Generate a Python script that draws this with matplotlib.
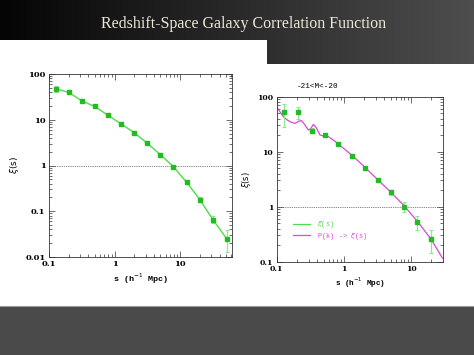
import numpy as np
import matplotlib
matplotlib.use('Agg')
import matplotlib.pyplot as plt
from matplotlib.patches import Rectangle
from matplotlib.colors import LinearSegmentedColormap
from matplotlib.ticker import LogLocator, NullFormatter

# ---------------- data ----------------
title = "Redshift-Space Galaxy Correlation Function"

# left panel: xi(s)
s_left = [0.126, 0.2, 0.316, 0.5, 0.79, 1.26, 2.0, 3.16, 5.0, 7.9, 12.6, 20.0, 31.6, 52.0]
xi_left = [47.7, 39.6, 26.0, 19.5, 12.6, 8.1, 5.2, 3.06, 1.73, 0.94, 0.43, 0.18, 0.066, 0.0245]
xi_left_lo = [41.0, 37.0, 24.5, 18.5, 12.0, 7.7, 4.95, 2.9, 1.64, 0.89, 0.40, 0.16, 0.056, 0.0129]
xi_left_hi = [55.0, 42.0, 27.5, 20.5, 13.2, 8.5, 5.45, 3.2, 1.82, 0.99, 0.47, 0.20, 0.078, 0.0385]

# right panel: xi(s) for -21<M<-20
s_right = [0.128, 0.21, 0.33, 0.53, 0.83, 1.31, 2.07, 3.2, 5.1, 7.95, 12.5, 20.0]
xi_right = [53.0, 52.0, 24.0, 20.0, 13.7, 8.4, 5.0, 3.0, 1.82, 1.0, 0.53, 0.26]
xi_right_lo = [28.0, 40.0, 21.5, 19.0, 13.0, 8.0, 4.8, 2.85, 1.63, 0.81, 0.37, 0.146]
xi_right_hi = [75.0, 66.0, 27.3, 21.0, 14.5, 8.8, 5.2, 3.15, 2.01, 1.2, 0.69, 0.37]

# right panel: P(k) -> xi(s) curve
s_pk = [0.1, 0.112, 0.126, 0.144, 0.167, 0.1875, 0.215, 0.236, 0.264, 0.296, 0.324,
        0.351, 0.385, 0.442, 0.495, 0.568, 0.698, 0.829, 1.31, 2.07, 3.23, 5.09,
        7.96, 12.6, 19.9, 29.6]
xi_pk = [65.8, 53.0, 43.0, 37.6, 34.1, 32.7, 36.1, 36.6, 30.5, 24.8, 26.6,
         31.4, 27.7, 20.1, 19.3, 19.3, 16.3, 13.8, 8.7, 5.19, 3.06, 1.80,
         1.03, 0.533, 0.258, 0.115]

left_yticks = [0.01, 0.1, 1, 10, 100]
left_ylabels = ['0.01', '0.1', '1', '10', '100']
left_xticks = [0.1, 1, 10]
left_xlabels = ['0.1', '1', '10']
right_yticks = [0.1, 1, 10, 100]
right_ylabels = ['0.1', '1', '10', '100']
right_xticks = [0.1, 1, 10]
right_xlabels = ['0.1', '1', '10']

GREEN = '#4ddc4d'
GREEN_ERR = '#8fe88f'
GREEN_PT = '#22bb22'
MAGENTA = '#d84ad8'

W, H = 474, 355
fig = plt.figure(figsize=(4.74, 3.55), dpi=100)

# ---------------- background ----------------
bg = fig.add_axes([0, 0, 1, 1])
bg.set_axis_off()
cmap = LinearSegmentedColormap.from_list('g', ['#050505', '#2a2a2a', '#4e4e4e'])
grad = np.linspace(0, 1, 256)[None, :]
bg.imshow(grad, aspect='auto', cmap=cmap, extent=[0, W, H, 0])
bg.set_xlim(0, W)
bg.set_ylim(H, 0)
bg.add_patch(Rectangle((0, 306), W, 49, color='#4a4a4a', lw=0))
bg.plot([0, W], [306, 306], color='#9a9a9a', lw=0.8)
bg.add_patch(Rectangle((0, 40), 267, 266, color='white', lw=0))
bg.add_patch(Rectangle((267, 64), 207, 242, color='white', lw=0))
bg.text(244, 24, title, ha='center', va='center', color='#ece8d6',
        fontsize=11.5, family='Liberation Serif')

MONO = 'Liberation Mono'


def style(ax, xlim, ylim, xt, xl, yt, yl, fs):
    ax.set_xscale('log')
    ax.set_yscale('log')
    ax.set_xlim(*xlim)
    ax.set_ylim(*ylim)
    ax.set_xticks(xt, labels=xl)
    ax.set_yticks(yt, labels=yl)
    ax.xaxis.set_minor_locator(LogLocator(base=10, subs=np.arange(2, 10)))
    ax.yaxis.set_minor_locator(LogLocator(base=10, subs=np.arange(2, 10)))
    ax.xaxis.set_minor_formatter(NullFormatter())
    ax.yaxis.set_minor_formatter(NullFormatter())
    ax.tick_params(which='both', direction='in', top=True, right=True,
                   width=0.5, color='#333333', labelsize=fs, pad=2.5)
    ax.tick_params(which='major', length=4)
    ax.tick_params(which='minor', length=2)
    for lab in ax.get_xticklabels() + ax.get_yticklabels():
        lab.set_family('DejaVu Serif')
        lab.set_fontweight('bold')
    for sp in ax.spines.values():
        sp.set_linewidth(0.6)
        sp.set_color('#333333')
    ax.axhline(1, color='#555555', lw=0.6, ls=(0, (1, 1.2)))


# ---------------- left panel ----------------
axL = fig.add_axes([49 / W, 1 - 257 / H, 183 / W, 183 / H])
style(axL, (0.1, 62), (0.01, 100), left_xticks, left_xlabels,
      left_yticks, left_ylabels, 6)
yl = np.array(xi_left)
errL = [yl - np.array(xi_left_lo), np.array(xi_left_hi) - yl]
axL.errorbar(s_left, xi_left, yerr=errL, fmt='none', ecolor=GREEN_ERR,
             elinewidth=0.9, capsize=1.5, capthick=0.8)
axL.plot(s_left, xi_left, color=GREEN, lw=1.0, marker='s', ms=2.2,
         mfc=GREEN_PT, mec=GREEN_PT)
axL.set_xlabel('s (h$^{-1}$ Mpc)', family=MONO, fontweight='bold',
               fontsize=6, labelpad=2)
axL.set_ylabel(r'$\xi$(s)', fontsize=6.5, labelpad=3)

# ---------------- right panel ----------------
axR = fig.add_axes([276.7 / W, 1 - 261.7 / H, 166 / W, 165 / H])
style(axR, (0.1, 29.7), (0.1, 100), right_xticks, right_xlabels,
      right_yticks, right_ylabels, 5.5)
yr = np.array(xi_right)
errR = [yr - np.array(xi_right_lo), np.array(xi_right_hi) - yr]
h_pk, = axR.plot(s_pk, xi_pk, color=MAGENTA, lw=0.9,
                 label='P(k) -> $\\xi$(s)', zorder=2)
axR.errorbar(s_right, xi_right, yerr=errR, fmt='none', ecolor=GREEN_ERR,
             elinewidth=0.9, capsize=1.5, capthick=0.8, zorder=3)
axR.plot(s_right, xi_right, ls='none', marker='s', ms=2.2,
         mfc=GREEN_PT, mec=GREEN_PT, zorder=4)
h_xi, = axR.plot([], [], color=GREEN, lw=0.9, label='$\\xi$(s)')
leg = axR.legend(handles=[h_xi, h_pk], loc='center left',
                 bbox_to_anchor=(0.098, 0.19), frameon=False,
                 borderpad=0, borderaxespad=0,
                 prop={'family': MONO, 'size': 5.0},
                 handlelength=2.5, handletextpad=1.0, labelspacing=0.12,
                 labelcolor='linecolor')
axR.set_xlabel('s (h$^{-1}$ Mpc)', family=MONO, fontweight='bold',
               fontsize=5.5, labelpad=2)
axR.set_ylabel(r'$\xi$(s)', fontsize=6, labelpad=3)
axR.text(0.12, 1.04, '-21<M<-20', transform=axR.transAxes, family=MONO,
         fontsize=5.5, ha='left', va='bottom')

fig.savefig('out.png', dpi=100)
